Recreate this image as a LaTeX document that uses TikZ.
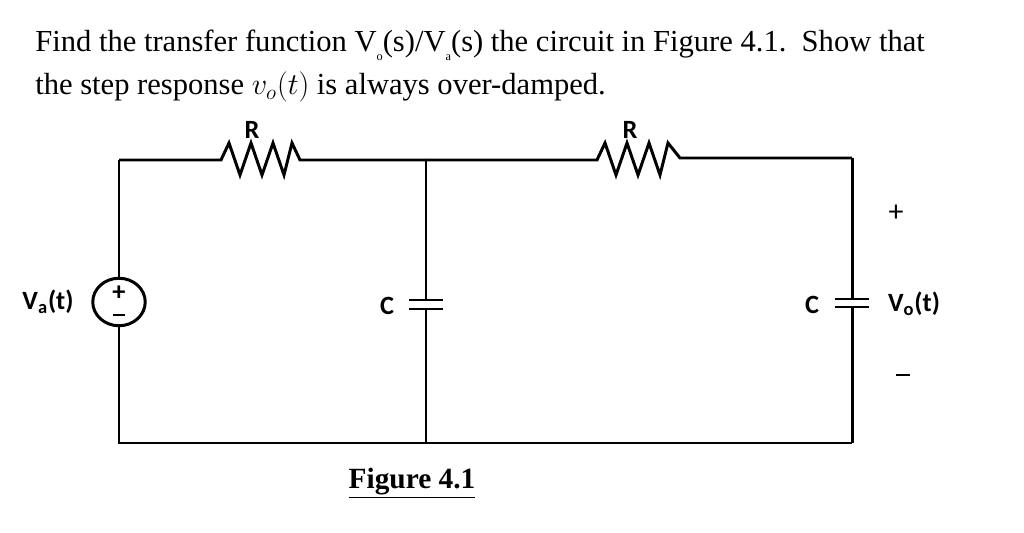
\documentclass[tikz,border=0pt]{standalone}
\usepackage{fontspec}
\usetikzlibrary{shapes.geometric}
\setmainfont{Liberation Serif}
\newfontfamily\lblfont{Carlito}
\begin{document}
\begin{tikzpicture}[x=0.02cm,y=-0.02cm,
  wire/.style={line width=1.7pt},
  lbl/.style={font=\lblfont\bfseries\fontsize{15}{17}\selectfont},
  ttl/.style={font=\fontsize{17.4}{20}\selectfont,anchor=base west,inner sep=0}]
\useasboundingbox (0,0) rectangle (1024,533);
\node[ttl] (t1) at (35,52) {Find the transfer function V\raisebox{-0.6ex}{\scriptsize o}(s)/V\raisebox{-0.6ex}{\scriptsize a}(s) the circuit in Figure 4.1.\ \ Show that};
\node[ttl] (t2) at (35,95) {the step response $v_o(t)$ is always over-damped.};
% nodes
\coordinate (tl) at (119,160); \coordinate (bl) at (119,443);
\coordinate (tm) at (426,160); \coordinate (bm) at (426,443);
\coordinate (tr) at (852,158); \coordinate (br) at (852,443);
\node[draw,wire,ellipse,inner sep=0,minimum width=1.05cm,minimum height=0.95cm] (src) at (119,302) {};
\node[lbl] at (119,293) {+};
\draw[wire] (113,315) -- (125,315);
% resistors
\draw[wire] (tl) -- (218,160) -- (221,160) -- (229,143) -- (240,175) -- (251,143) -- (262,175) -- (273,143) -- (284,175) -- (292,143) -- (300,160) -- (tm);
\draw[wire] (tm) -- (594,160) -- (597,160) -- (605,143) -- (616,175) -- (627,143) -- (638,175) -- (649,143) -- (660,175) -- (668,143) -- (680,158) -- (tr);
\node[lbl] (r1) at (252,130) {R};
\node[lbl] (r2) at (630,130) {R};
% left loop
\draw[wire] (tl) -- (src.north);
\draw[wire] (src.south) -- (bl) -- (bm) -- (br);
% caps
\draw[wire] (tm) -- (426,300); \draw[wire] (409,300) -- (443,300); \draw[wire] (409,309) -- (443,309); \draw[wire] (426,309) -- (bm);
\draw[wire] (tr) -- (852,299); \draw[wire] (835,299) -- (869,299); \draw[wire] (835,307) -- (869,307); \draw[wire] (852,307) -- (br);
\node[lbl] (c1) at (387,306) {C};
\node[lbl] (c2) at (812,305) {C};
\node[lbl] (va) at (48,302) {V\textsubscript{a}(t)};
\node[lbl] (vo) at (914,304) {V\textsubscript{o}(t)};
\node (plus) at (896,213) {\lblfont\fontsize{17}{17}\selectfont +};
\node (minus) at (903,375) {\rule{0.28cm}{0.8pt}};
\node (fig) at (412,483) {\fontsize{16.7}{19}\selectfont\bfseries\underline{Figure 4.1}};
\end{tikzpicture}
\end{document}
